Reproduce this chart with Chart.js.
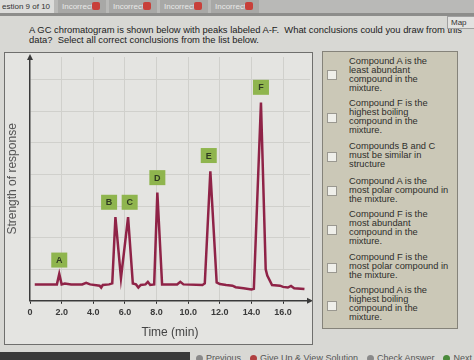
<!DOCTYPE html>
<html>
<head>
<meta charset="utf-8">
<script src="https://cdn.jsdelivr.net/npm/chart.js@4.4.1/dist/chart.umd.min.js"></script>
<style>
  html, body { margin: 0; padding: 0; }
  body {
    width: 474px; height: 360px; overflow: hidden; position: relative;
    background: #d8d8d4; font-family: "Liberation Sans", Arial, sans-serif; color: #2b2b2b;
  }
  .tabs { position: absolute; left: 0; top: 0; width: 474px; height: 13px; background: #b9b9b7; }
  .tab { position: absolute; top: 0; height: 13px; font-size: 8px; line-height: 13px; padding-left: 4px; box-sizing: border-box; }
  .tab.cur { left: -2px; width: 56px; background: #dcdcda; color: #333; }
  .tab.bad { width: 48px; background: #a8a8a6; color: #e8e8e8; }
  .tab.bad i { position: absolute; right: 6px; top: 2px; width: 8px; height: 8px; background: #c8403a; border-radius: 2px; }
  .rule { position: absolute; left: 0; top: 13px; width: 474px; height: 3px; background: #8d8d8b; }
  .question { position: absolute; left: 29px; top: 25px; width: 430px; font-size: 9.4px; line-height: 10px; color: #222; white-space: nowrap; }
  .map { position: absolute; left: 447px; top: 16px; width: 30px; height: 13px; background: #e2e2e0; border: 1px solid #a0a0a0; font-size: 8px; line-height: 12px; padding-left: 3px; box-sizing: border-box; color: #333; }
  .panel { position: absolute; left: 4px; top: 52px; width: 307px; height: 291px; border: 1px solid #6f6f6d; background: #e4e4e1; }
  .panel canvas { position: absolute; left: 0; top: 0; }
  .choices { position: absolute; left: 322px; top: 51px; width: 134px; height: 276px; background: #cbc8b7; border: 1px solid #85837a; }
  .box { position: absolute; left: 327px; width: 10px; height: 10px; background: #efefea; border: 1px solid #9a9890; box-sizing: border-box; }
  .txt { position: absolute; left: 349px; font-size: 9.3px; line-height: 9px; color: #2e2e2b; white-space: nowrap; }
  .bottom { position: absolute; left: 0; top: 352px; width: 190px; height: 8px; background: #3a3a3a; }
  .btns { position: absolute; left: 196px; top: 353px; font-size: 9px; color: #555; white-space: nowrap; }
  .btns span { margin-right: 9px; }
  .btns b { display: inline-block; width: 7px; height: 7px; border-radius: 50%; background: #8a8a8a; margin-right: 3px; vertical-align: -1px; }
</style>
</head>
<body>
<div class="tabs">
  <div class="tab cur">estion 9 of 10</div>
  <div class="tab bad" style="left:58px">Incorrect<i></i></div>
  <div class="tab bad" style="left:109px">Incorrect<i></i></div>
  <div class="tab bad" style="left:160px">Incorrect<i></i></div>
  <div class="tab bad" style="left:211px">Incorrect<i></i></div>
</div>
<div class="rule"></div>
<div class="question">A GC chromatogram is shown below with peaks labeled A-F.&nbsp; What conclusions could you draw from this<br>data?&nbsp; Select all correct conclusions from the list below.</div>
<div class="map">Map</div>

<div class="panel"><canvas id="chart" width="307" height="291"></canvas></div>

<div class="choices"></div>
<div class="box" style="top:70px"></div>
<div class="txt" style="top:57px">Compound A is the<br>least abundant<br>compound in the<br>mixture.</div>
<div class="box" style="top:113px"></div>
<div class="txt" style="top:99px">Compound F is the<br>highest boiling<br>compound in the<br>mixture.</div>
<div class="box" style="top:152px"></div>
<div class="txt" style="top:142px">Compounds B and C<br>must be similar in<br>structure</div>
<div class="box" style="top:186px"></div>
<div class="txt" style="top:177px">Compound A is the<br>most polar compound in<br>the mixture.</div>
<div class="box" style="top:225px"></div>
<div class="txt" style="top:210px">Compound F is the<br>most abundant<br>compound in the<br>mixture.</div>
<div class="box" style="top:263px"></div>
<div class="txt" style="top:253px">Compound F is the<br>most polar compound in<br>the mixture.</div>
<div class="box" style="top:301px"></div>
<div class="txt" style="top:286px">Compound A is the<br>highest boiling<br>compound in the<br>mixture.</div>

<div class="bottom"></div>
<div class="btns"><span><b></b>Previous</span><span><b style="background:#b04040"></b>Give Up &amp; View Solution</span><span><b></b>Check Answer</span><span><b style="background:#4a8a3a"></b>Next</span><span><b style="background:#c03030;border-radius:1px"></b>Exit</span></div>

<script>
// trace (time in min, response in grid units)
const times = [0.3, 1.7, 1.85, 2.0, 2.2, 2.6, 3.3, 3.55, 3.8, 4.4, 4.5, 4.6, 5.0, 5.2, 5.4, 5.75, 6.2, 6.5, 6.7, 6.85, 7.0, 7.3, 7.45, 7.6, 7.85, 8.05, 8.35, 9.3, 9.5, 9.7, 10.9, 11.05, 11.4, 11.8, 12.0, 12.4, 12.8, 13.0, 13.5, 14.0, 14.15, 14.6, 14.9, 15.0, 15.3, 15.8, 16.0, 16.3, 16.5, 16.7, 17.35];
const response = [0.52, 0.52, 0.85, 0.52, 0.55, 0.52, 0.52, 0.57, 0.52, 0.48, 0.42, 0.5, 0.52, 0.55, 2.65, 0.72, 2.65, 0.55, 0.52, 0.42, 0.5, 0.52, 0.6, 0.5, 0.52, 3.43, 0.52, 0.52, 0.6, 0.52, 0.5, 0.55, 4.1, 0.58, 0.53, 0.5, 0.48, 0.43, 0.4, 0.36, 0.38, 6.28, 1.0, 0.8, 0.5, 0.48, 0.44, 0.42, 0.47, 0.4, 0.37];

const peakNames = ['A', 'B', 'C', 'D', 'E', 'F'];
const labelTimes = [1.85, 5.0, 6.3, 8.05, 11.3, 14.6];
const labelLevels = [1.29, 3.12, 3.12, 3.9, 4.6, 6.76];

const xTicks = [0, 2, 4, 6, 8, 10, 12, 14, 16];
const yGrid = [0, 1, 2, 3, 4, 5, 6, 7];

const axisColor = '#3a3a3a';

const arrows = {
    id: 'arrows',
    afterDraw(chart) {
        const {ctx, chartArea: a} = chart;
        ctx.save();
        ctx.fillStyle = axisColor;
        ctx.beginPath();
        ctx.moveTo(a.left, a.top - 3);
        ctx.lineTo(a.left - 3, a.top + 3);
        ctx.lineTo(a.left + 3, a.top + 3);
        ctx.fill();
        ctx.beginPath();
        ctx.moveTo(a.right + 3, a.bottom);
        ctx.lineTo(a.right - 3, a.bottom - 3);
        ctx.lineTo(a.right - 3, a.bottom + 3);
        ctx.fill();
        ctx.restore();
    }
};

const peakTags = {
    id: 'peakTags',
    afterDatasetsDraw(chart) {
        const {ctx, scales} = chart;
        ctx.save();
        ctx.font = 'bold 9px "Liberation Sans", Arial, sans-serif';
        ctx.textAlign = 'center';
        ctx.textBaseline = 'middle';
        peakNames.forEach((name, i) => {
            const x = scales.x.getPixelForValue(labelTimes[i]);
            const y = scales.y.getPixelForValue(labelLevels[i]);
            ctx.fillStyle = '#8fb54e';
            ctx.fillRect(x - 8, y - 7.5, 16, 15);
            ctx.fillStyle = '#2f3a22';
            ctx.fillText(name, x, y + 0.5);
        });
        ctx.restore();
    }
};

new Chart(document.getElementById('chart'), {
    type: 'line',
    data: {
        datasets: [{
            data: times.map((t, i) => ({x: t, y: response[i]})),
            borderColor: '#8f2347',
            borderWidth: 2.5,
            pointRadius: 0,
            tension: 0
        }]
    },
    options: {
        responsive: false,
        animation: false,
        layout: { padding: { left: 0, top: 4, right: 2, bottom: 4 } },
        plugins: { legend: { display: false }, tooltip: { enabled: false } },
        scales: {
            x: {
                type: 'linear',
                min: 0,
                max: 17.7,
                afterBuildTicks: scale => { scale.ticks = xTicks.map(v => ({value: v})); },
                border: { display: true, color: axisColor, width: 1.5 },
                grid: {
                    color: c => c.tick && c.tick.value === 0 ? 'rgba(0,0,0,0)' : '#d0d0cc',
                    tickColor: '#2a2a2a',
                    tickLength: 3
                },
                ticks: {
                    padding: 3,
                    color: '#3a3a3a',
                    font: { size: 9, weight: 'bold', family: '"Liberation Sans", Arial, sans-serif' },
                    callback: v => v === 0 ? '0' : v.toFixed(1)
                },
                title: {
                    display: true,
                    text: 'Time (min)',
                    color: '#444',
                    padding: { top: 5, bottom: 0 },
                    font: { size: 12, family: '"Liberation Sans", Arial, sans-serif' }
                }
            },
            y: {
                min: 0,
                max: 7.72,
                afterBuildTicks: scale => { scale.ticks = yGrid.map(v => ({value: v})); },
                border: { display: true, color: axisColor, width: 1.5 },
                grid: {
                    color: c => c.tick && c.tick.value === 0 ? 'rgba(0,0,0,0)' : '#d0d0cc',
                    drawTicks: false
                },
                ticks: { display: false },
                title: {
                    display: true,
                    text: 'Strength of response',
                    color: '#555',
                    padding: { top: 0, bottom: 10.6 },
                    font: { size: 12, family: '"Liberation Sans", Arial, sans-serif' }
                }
            }
        }
    },
    plugins: [arrows, peakTags]
});
</script>
</body>
</html>
